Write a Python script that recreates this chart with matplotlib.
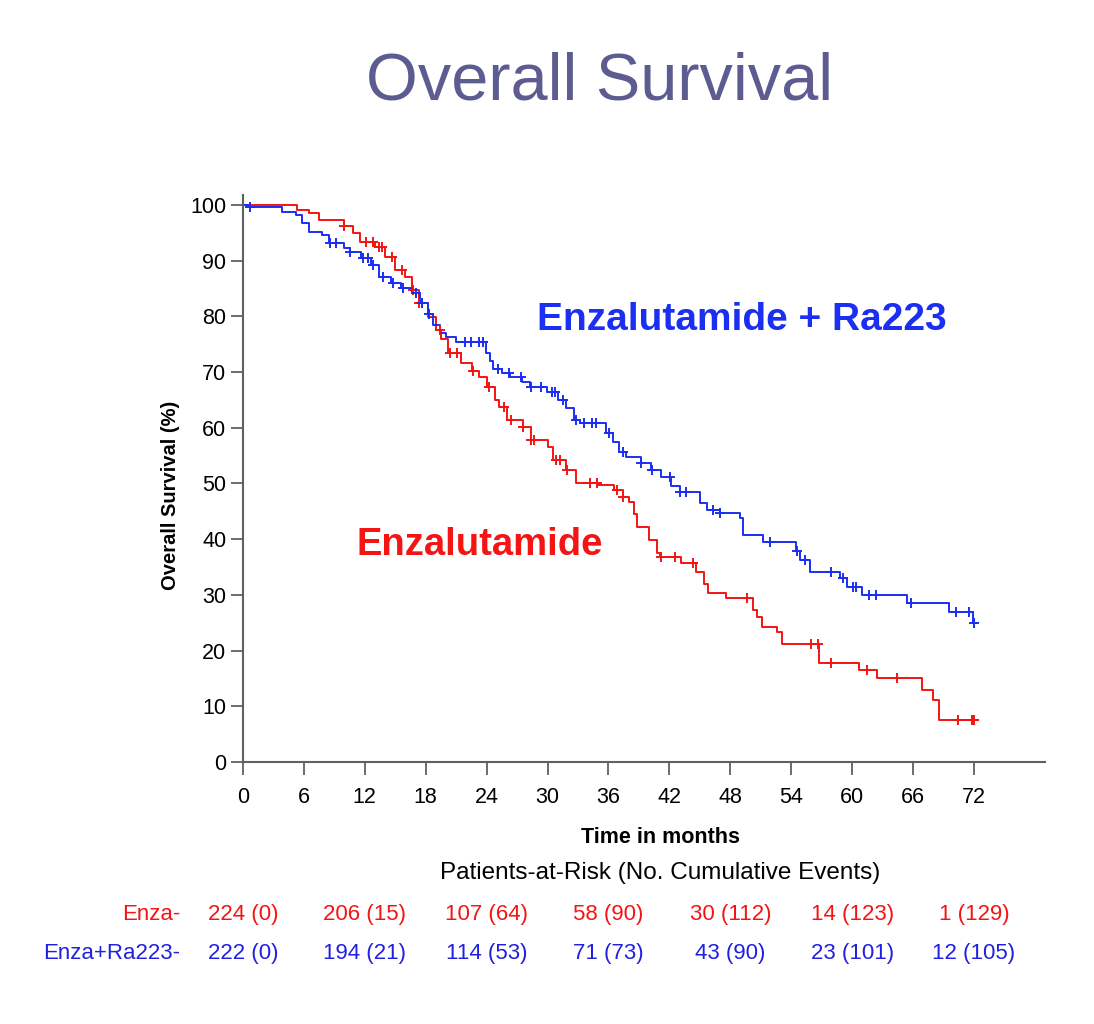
import matplotlib
matplotlib.use("Agg")
import matplotlib.pyplot as plt
import numpy as np

# ---- data ----
# Enzalutamide alone: step times (months) and survival (%) after each step
red_t = [0, 5.3, 6.5, 7.5, 10.0, 10.8, 11.5, 13.0, 14.0, 15.0, 16.0, 16.6, 17.3,
         18.2, 19.0, 19.5, 20.2, 21.5, 22.6, 23.2, 24.0, 24.8, 25.2, 26.0, 27.6,
         28.4, 30.0, 30.5, 31.8, 32.8, 35.0, 36.5, 37.4, 38.0, 38.5, 38.8, 40.0,
         40.8, 41.1, 43.1, 44.6, 45.4, 45.8, 47.6, 50.2, 50.6, 51.1, 52.6, 53.1,
         56.7, 60.7, 62.5, 66.9, 68.0, 68.6, 72.1]
red_s = [100, 99.1, 98.6, 97.3, 96.2, 95.0, 93.4, 92.5, 90.7, 88.3, 87.1, 84.7, 82.4,
         79.9, 77.5, 76.0, 73.4, 71.6, 70.2, 69.1, 67.3, 65.0, 63.7, 61.4, 60.1,
         57.8, 56.6, 54.2, 52.4, 50.1, 49.7, 48.8, 47.6, 46.7, 44.5, 42.2, 39.9,
         37.5, 36.8, 35.7, 34.1, 32.0, 30.3, 29.4, 27.3, 26.0, 24.2, 23.3, 21.2,
         17.8, 16.5, 15.1, 12.9, 11.1, 7.5, 7.5]
red_cens = [10.0, 12.1, 12.8, 13.4, 13.7, 14.7, 15.7, 16.7, 17.3, 17.6, 19.4, 20.4,
            21.1, 22.7, 24.2, 25.7, 26.4, 27.6, 28.4, 28.7, 30.8, 31.2, 31.9, 34.2,
            34.9, 36.8, 37.4, 41.2, 42.6, 44.3, 49.6, 56.0, 56.6, 57.9, 61.5, 64.4,
            70.4, 71.8, 72.0]

# Enzalutamide + Ra223
blue_t = [0, 0.5, 3.8, 5.2, 5.8, 6.5, 7.8, 8.5, 10.0, 10.5, 11.6, 12.6, 13.4, 14.6,
          15.6, 16.6, 17.4, 18.2, 18.7, 19.4, 20.0, 21.0, 23.9, 24.3, 24.6, 25.5,
          26.3, 27.5, 28.3, 29.9, 31.0, 31.8, 32.6, 33.2, 35.8, 36.4, 37.0, 37.7,
          39.2, 40.2, 41.2, 42.2, 43.0, 45.0, 45.7, 47.0, 49.0, 49.3, 51.2, 54.5,
          54.9, 55.9, 58.8, 59.5, 61.0, 65.4, 69.5, 71.9, 72.2]
blue_s = [100, 99.6, 98.7, 98.2, 96.8, 95.2, 94.6, 93.2, 92.3, 91.6, 90.5, 89.2, 87.1,
          86.0, 85.1, 84.2, 82.4, 80.5, 78.5, 77.0, 76.3, 75.4, 73.4, 72.0, 70.6,
          69.8, 69.1, 68.2, 67.3, 66.4, 65.0, 63.5, 61.4, 60.8, 59.0, 57.5, 55.6,
          54.8, 53.7, 52.5, 51.2, 49.5, 48.5, 46.5, 45.2, 44.7, 43.8, 40.8, 39.5,
          37.8, 36.3, 34.1, 33.0, 31.4, 30.0, 28.5, 26.9, 25.0, 25.0]
blue_cens = [0.7, 8.6, 9.2, 10.5, 11.8, 12.3, 12.8, 13.8, 14.8, 15.8, 17.0, 17.6,
             18.3, 21.9, 22.5, 23.2, 23.6, 25.1, 26.2, 27.4, 28.4, 29.4, 30.4, 30.7,
             31.5, 32.8, 33.6, 34.4, 34.8, 36.1, 37.4, 39.2, 40.3, 42.1, 43.0, 43.6,
             46.3, 47.0, 51.9, 54.6, 55.4, 57.9, 59.1, 60.1, 60.4, 61.7, 62.4, 65.8,
             70.2, 71.5, 72.0]

risk_times = [0, 12, 24, 36, 48, 60, 72]
risk_enza = ["224 (0)", "206 (15)", "107 (64)", "58 (90)", "30 (112)", "14 (123)", "1 (129)"]
risk_combo = ["222 (0)", "194 (21)", "114 (53)", "71 (73)", "43 (90)", "23 (101)", "12 (105)"]

RED = "#f41414"
BLUE = "#1a2ff2"
ARIAL = ["Liberation Sans", "DejaVu Sans"]


def surv_at(t_list, s_list, times):
    idx = np.searchsorted(np.asarray(t_list), np.asarray(times), side="right") - 1
    return np.asarray(s_list)[np.clip(idx, 0, len(s_list) - 1)]


fig = plt.figure(figsize=(10.94, 10.24), dpi=100)
ax = fig.add_axes([0.2221, 0.2559, 0.7331, 0.5537])

ax.step(red_t, red_s, where="post", color=RED, lw=1.4)
ax.step(blue_t, blue_s, where="post", color=BLUE, lw=1.4)
ax.plot(red_cens, surv_at(red_t, red_s, red_cens), ls="none", marker="+",
        color=RED, ms=7, mew=1.4)
ax.plot(blue_cens, surv_at(blue_t, blue_s, blue_cens), ls="none", marker="+",
        color=BLUE, ms=7, mew=1.4, clip_on=False)

ax.set_xlim(0, 79)
ax.set_ylim(0, 101.8)
ax.set_xticks(np.arange(0, 73, 6))
ax.set_yticks(np.arange(0, 101, 10))
for s in ["top", "right"]:
    ax.spines[s].set_visible(False)
for s in ["left", "bottom"]:
    ax.spines[s].set_color("#606060")
    ax.spines[s].set_linewidth(1.5)
ax.tick_params(direction="out", length=9, width=1.3, color="#606060")
ax.tick_params(axis="y", pad=3)
ax.tick_params(axis="x", pad=9)
for lab in ax.get_yticklabels():
    lab.set_fontfamily(ARIAL)
    lab.set_fontsize(15.5)
for lab in ax.get_xticklabels():
    lab.set_fontfamily(ARIAL)
    lab.set_fontsize(15.5)

ax.set_ylabel("Overall Survival (%)", fontsize=14.5, fontweight="bold",
              family=ARIAL)
ax.yaxis.set_label_coords(-0.078, 0.47)
ax.set_xlabel("Time in months", fontsize=15.5, fontweight="bold", family=ARIAL)
ax.xaxis.set_label_coords(0.52, -0.115)

ax.text(49.1, 79.4, "Enzalutamide + Ra223", color=BLUE, fontsize=28,
        fontweight="bold", family=ARIAL, ha="center", va="center")
ax.text(23.3, 39.0, "Enzalutamide", color=RED, fontsize=27.5,
        fontweight="bold", family=ARIAL, ha="center", va="center")

fig.text(0.548, 0.903, "Overall Survival", color="#5c5c90", fontsize=48,
         family=ARIAL, ha="center", va="baseline")

# patients-at-risk table
trans = matplotlib.transforms.blended_transform_factory(ax.transData, fig.transFigure)
fig.text(0.603, 0.147, "Patients-at-Risk (No. Cumulative Events)", fontsize=17.5,
         family=ARIAL, ha="center", va="center")
fig.text(0.165, 0.107, "Enza-", color=RED, fontsize=16, family=ARIAL,
         ha="right", va="center")
fig.text(0.165, 0.069, "Enza+Ra223-", color="#2020e0", fontsize=16, family=ARIAL,
         ha="right", va="center")
for t, a, b in zip(risk_times, risk_enza, risk_combo):
    ax.text(t, 0.107, a, transform=trans, color=RED, fontsize=16, family=ARIAL,
            ha="center", va="center")
    ax.text(t, 0.069, b, transform=trans, color="#2020e0", fontsize=16, family=ARIAL,
            ha="center", va="center")

fig.savefig("out.png", dpi=100, facecolor="white")
